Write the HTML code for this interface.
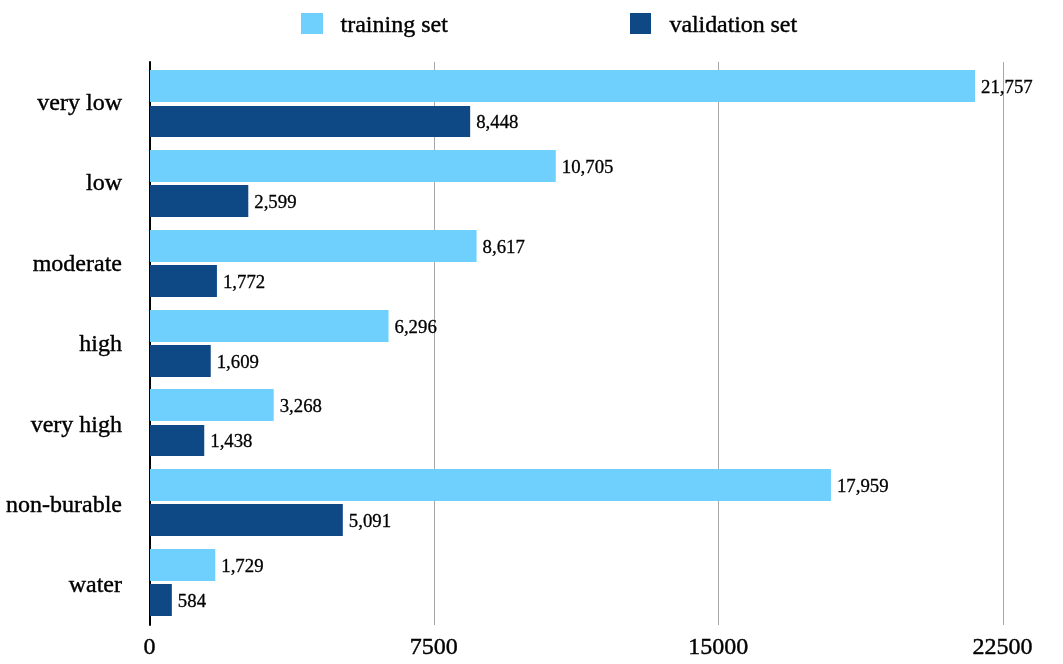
<!DOCTYPE html><html><head><meta charset="utf-8"><title>chart</title><style>html,body{margin:0;padding:0;background:#fff}svg{display:block}text{font-family:"Liberation Serif",serif;fill:#000;stroke:#000;stroke-width:0.4px}text.d{stroke-width:0.3px}</style></head><body>
<svg width="1063" height="664" viewBox="0 0 1063 664">
<rect width="1063" height="664" fill="#fff"/>
<line x1="434.5" y1="62" x2="434.5" y2="625" stroke="#a6a6a6" stroke-width="1"/>
<line x1="718.5" y1="62" x2="718.5" y2="625" stroke="#a6a6a6" stroke-width="1"/>
<line x1="1003.5" y1="62" x2="1003.5" y2="625" stroke="#a6a6a6" stroke-width="1"/>
<rect x="150.0" y="70" width="825.02" height="32" fill="#6FCFFD"/>
<rect x="150.0" y="106" width="320.16" height="31" fill="#0E4885"/>
<text x="981.02" y="92.50" font-size="18.8" class="d">21,757</text>
<text x="476.16" y="128.00" font-size="18.8" class="d">8,448</text>
<text x="122" y="110" font-size="24" text-anchor="end">very low</text>
<rect x="150.0" y="150" width="405.78" height="32" fill="#6FCFFD"/>
<rect x="150.0" y="185" width="98.29" height="32" fill="#0E4885"/>
<text x="561.78" y="172.50" font-size="18.8" class="d">10,705</text>
<text x="254.29" y="207.50" font-size="18.8" class="d">2,599</text>
<text x="122" y="190" font-size="24" text-anchor="end">low</text>
<rect x="150.0" y="230" width="326.57" height="32" fill="#6FCFFD"/>
<rect x="150.0" y="265" width="66.92" height="32" fill="#0E4885"/>
<text x="482.57" y="252.50" font-size="18.8" class="d">8,617</text>
<text x="222.92" y="287.50" font-size="18.8" class="d">1,772</text>
<text x="122" y="270.7" font-size="24" text-anchor="end">moderate</text>
<rect x="150.0" y="310" width="238.53" height="32" fill="#6FCFFD"/>
<rect x="150.0" y="345" width="60.73" height="32" fill="#0E4885"/>
<text x="394.53" y="332.50" font-size="18.8" class="d">6,296</text>
<text x="216.73" y="367.50" font-size="18.8" class="d">1,609</text>
<text x="122" y="350.8" font-size="24" text-anchor="end">high</text>
<rect x="150.0" y="389" width="123.67" height="32" fill="#6FCFFD"/>
<rect x="150.0" y="425" width="54.25" height="31" fill="#0E4885"/>
<text x="279.67" y="411.50" font-size="18.8" class="d">3,268</text>
<text x="210.25" y="447.00" font-size="18.8" class="d">1,438</text>
<text x="122" y="431.6" font-size="24" text-anchor="end">very high</text>
<rect x="150.0" y="469" width="680.94" height="32" fill="#6FCFFD"/>
<rect x="150.0" y="504" width="192.82" height="32" fill="#0E4885"/>
<text x="836.94" y="491.50" font-size="18.8" class="d">17,959</text>
<text x="348.82" y="526.50" font-size="18.8" class="d">5,091</text>
<text x="122" y="511.5" font-size="24" text-anchor="end">non-burable</text>
<rect x="150.0" y="549" width="65.29" height="32" fill="#6FCFFD"/>
<rect x="150.0" y="584" width="21.85" height="32" fill="#0E4885"/>
<text x="221.29" y="571.50" font-size="18.8" class="d">1,729</text>
<text x="177.85" y="606.50" font-size="18.8" class="d">584</text>
<text x="122" y="591.7" font-size="24" text-anchor="end">water</text>
<line x1="150" y1="62" x2="150" y2="625" stroke="#000" stroke-width="2" stroke-linecap="round"/>
<rect x="150.0" y="70" width="3" height="32" fill="#6FCFFD"/>
<rect x="150.0" y="106" width="3" height="31" fill="#0E4885"/>
<rect x="150.0" y="150" width="3" height="32" fill="#6FCFFD"/>
<rect x="150.0" y="185" width="3" height="32" fill="#0E4885"/>
<rect x="150.0" y="230" width="3" height="32" fill="#6FCFFD"/>
<rect x="150.0" y="265" width="3" height="32" fill="#0E4885"/>
<rect x="150.0" y="310" width="3" height="32" fill="#6FCFFD"/>
<rect x="150.0" y="345" width="3" height="32" fill="#0E4885"/>
<rect x="150.0" y="389" width="3" height="32" fill="#6FCFFD"/>
<rect x="150.0" y="425" width="3" height="31" fill="#0E4885"/>
<rect x="150.0" y="469" width="3" height="32" fill="#6FCFFD"/>
<rect x="150.0" y="504" width="3" height="32" fill="#0E4885"/>
<rect x="150.0" y="549" width="3" height="32" fill="#6FCFFD"/>
<rect x="150.0" y="584" width="3" height="32" fill="#0E4885"/>
<text x="149.40" y="654" font-size="24" text-anchor="middle">0</text>
<text x="433.80" y="654" font-size="24" text-anchor="middle">7500</text>
<text x="718.20" y="654" font-size="24" text-anchor="middle">15000</text>
<text x="1002.60" y="654" font-size="24" text-anchor="middle">22500</text>
<rect x="301" y="13" width="22" height="21" fill="#6FCFFD"/>
<text x="340.5" y="32" font-size="24">training set</text>
<rect x="630" y="13" width="21" height="21" fill="#0E4885"/>
<text x="669.5" y="32" font-size="24" letter-spacing="-0.08">validation set</text>
</svg></body></html>
